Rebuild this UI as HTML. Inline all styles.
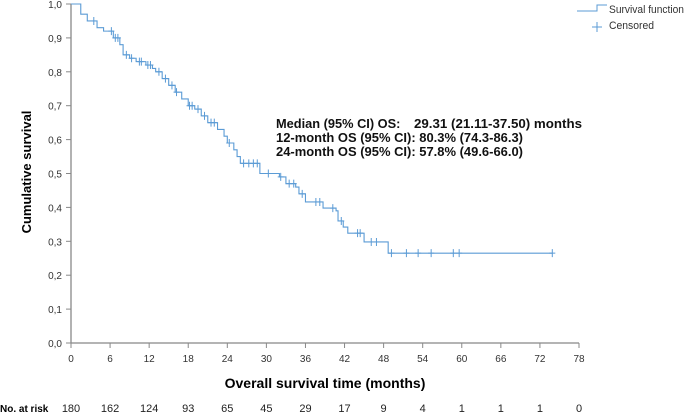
<!DOCTYPE html>
<html><head><meta charset="utf-8"><style>
body{margin:0;background:#fff;font-family:"Liberation Sans",Arial,sans-serif}
svg{display:block}
</style></head><body>
<svg width="685" height="413" viewBox="0 0 685 413">
<g id="axes"></g>
<g id="curve"></g>
<g id="cens"></g>
<g font-size="11" fill="#333">
<path d="M577 11 h20 v-6 h10" stroke="#5b9bd5" fill="none"/>
<text x="609" y="13" textLength="75" lengthAdjust="spacingAndGlyphs">Survival function</text>
<path d="M592 27 h10 M597 22 v10" stroke="#5b9bd5"/>
<text x="609" y="29" textLength="45" lengthAdjust="spacingAndGlyphs">Censored</text>
</g>
<g font-size="12.8" font-weight="bold" fill="#111">
<text x="276" y="128">Median (95% CI) OS:</text>
<text x="414" y="128" textLength="168" lengthAdjust="spacingAndGlyphs">29.31 (21.11-37.50) months</text>
<text x="276" y="142" textLength="247" lengthAdjust="spacingAndGlyphs">12-month OS (95% CI): 80.3% (74.3-86.3)</text>
<text x="276" y="156" textLength="247" lengthAdjust="spacingAndGlyphs">24-month OS (95% CI): 57.8% (49.6-66.0)</text>
</g>
<text transform="translate(31,172) rotate(-90)" text-anchor="middle" font-size="13" font-weight="bold">Cumulative survival</text>
<text x="325" y="388" text-anchor="middle" font-size="14" font-weight="bold">Overall survival time (months)</text>
<text x="0" y="412" font-size="10" font-weight="bold">No. at risk</text>
<g id="risk" font-size="11" fill="#222"></g>
</svg>
<script>
const xTicks=[0,6,12,18,24,30,36,42,48,54,60,66,72,78];
const yTicks=[0,0.1,0.2,0.3,0.4,0.5,0.6,0.7,0.8,0.9,1.0];
const atRisk=[180,162,124,93,65,45,29,17,9,4,1,1,1,0];
const stepTimes=[0,1.5,2.5,4,5,6.5,7.5,8,9,10,11.5,12.5,13,14,15,16,17,18,19,20,21,22.5,23.5,24,25,25.5,26,29,32,33,34.5,35,36,38.7,40.7,41,41.8,42.5,45,48.7];
const stepSurv=[1.0,0.97,0.95,0.93,0.92,0.90,0.88,0.85,0.84,0.83,0.82,0.81,0.80,0.78,0.76,0.74,0.72,0.70,0.69,0.67,0.65,0.63,0.61,0.59,0.57,0.55,0.53,0.50,0.49,0.47,0.46,0.44,0.416,0.398,0.39,0.36,0.342,0.324,0.298,0.265];
const endTime=73.9;
const censorTimes=[3.5,6.2,6.8,7.2,8.5,9.3,10.5,10.8,11.8,12.2,13.5,14.5,15.5,16.2,18.2,18.6,19.5,20.5,21.5,22,24.3,26.5,27.3,28,28.6,30.3,32.2,33.5,34.2,35.5,37.6,38.2,40.2,41.5,44,44.4,46.1,46.9,49.2,51.5,53.3,55.3,58.7,59.6,73.9];
const NS="http://www.w3.org/2000/svg";
const X=t=>71+t*(579-71)/78, Y=s=>343-s*339;
function mk(tag,attrs,parent){const e=document.createElementNS(NS,tag);for(const k in attrs)e.setAttribute(k,attrs[k]);parent.appendChild(e);return e;}
const ax=document.getElementById('axes');
let a=mk('path',{d:`M71 ${Y(1)} V343 H579`,stroke:'#888',fill:'none','stroke-width':1.3},ax);


yTicks.forEach(v=>{
 const l=mk('line',{x1:66,x2:71,y1:Y(v),y2:Y(v),stroke:'#888'},ax);
 
 
 const t=mk('text',{x:62,y:Y(v)+4,'text-anchor':'end','font-size':10,fill:'#333'},ax);
 t.textContent=v.toFixed(1).replace('.',',');
 
 
});
xTicks.forEach(v=>{
 const l=mk('line',{x1:X(v),x2:X(v),y1:343,y2:348,stroke:'#888'},ax);
 
 
 const t=mk('text',{x:X(v),y:362,'text-anchor':'middle','font-size':10,fill:'#333'},ax);
 t.textContent=v;
 
 
});
const rk=document.getElementById('risk');
atRisk.forEach((n,i)=>{
 const t=mk('text',{x:X(xTicks[i]),y:412,'text-anchor':'middle'},rk);
 t.textContent=n;
 
 
});
function survAt(t){let s=1;for(let i=0;i<stepTimes.length;i++){if(stepTimes[i]<=t)s=stepSurv[i];}return s;}
let d=`M${X(0)} ${Y(stepSurv[0])}`;
for(let i=1;i<stepTimes.length;i++){d+=` H${X(stepTimes[i])} V${Y(stepSurv[i])}`;}
d+=` H${X(endTime)}`;
const p=mk('path',{d,stroke:'#5b9bd5',fill:'none','stroke-width':1.1},document.getElementById('curve'));


const cg=document.getElementById('cens');
censorTimes.forEach(t=>{
 const x=X(t),y=Y(survAt(t));
 const c=mk('path',{d:`M${x} ${y-4} V${y+4} M${x-3} ${y} H${x+3}`,stroke:'#5b9bd5','stroke-width':1},cg);
 
 
});
</script>
</body></html>
